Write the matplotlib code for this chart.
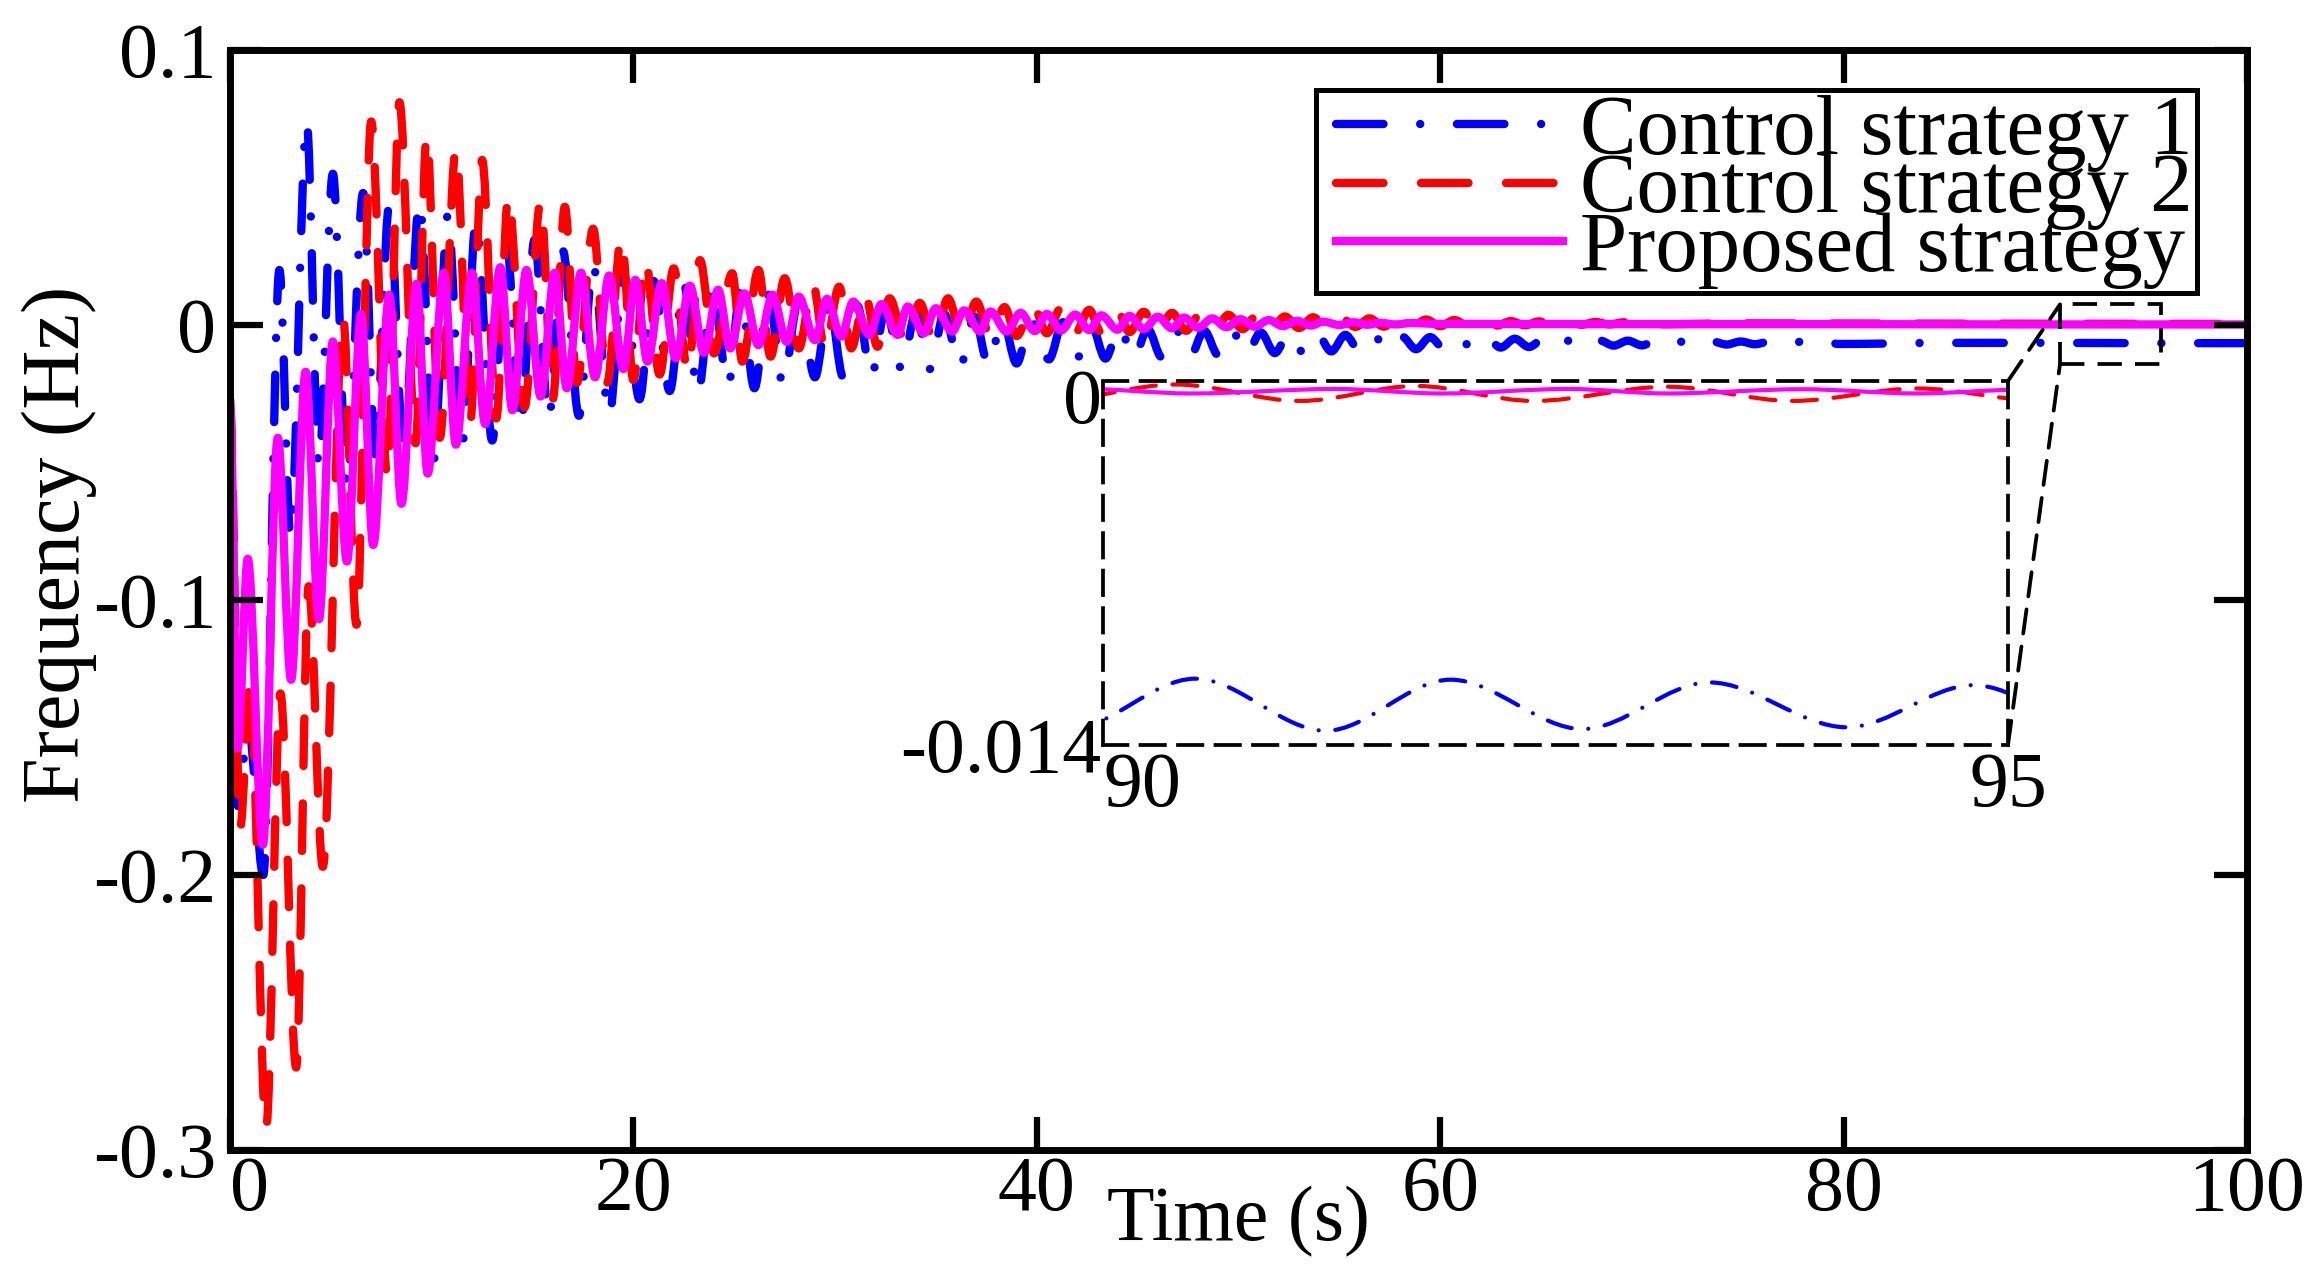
import matplotlib
matplotlib.use('Agg')
import matplotlib.pyplot as plt
from matplotlib.lines import Line2D
from matplotlib.path import Path
from matplotlib.patches import Rectangle, ConnectionPatch, PathPatch
from matplotlib.legend_handler import HandlerLine2D

# turning points of each trace (time in s, frequency deviation in Hz)
cs1_t = [0.0, 0.4, 0.9, 1.65, 2.45, 3.0, 3.8, 4.4, 5.1, 5.8, 6.6, 7.2, 7.9, 8.6, 9.4,
         10.1, 10.8, 11.5, 12.2, 13.0, 13.7, 14.4, 15.1, 15.8, 16.5, 17.3, 18.0, 18.8, 19.5,
         20.3, 21.0, 21.8, 22.5, 23.2, 23.9, 24.7, 25.3, 26.0, 26.7, 27.4, 28.2, 29.0, 29.7,
         30.4, 31.1, 31.8, 32.5, 33.3, 34.0, 34.7, 35.4, 36.2, 36.9, 37.6, 38.3, 39.0, 39.7,
         40.6, 41.3, 42.0, 42.7, 43.4, 44.1, 44.8, 45.5, 46.2, 46.9, 47.6, 48.3, 49.0, 49.7,
         50.4, 51.1, 51.8, 52.5, 53.2, 53.9, 54.6, 55.3, 56.0, 56.7, 57.4, 58.1, 58.8, 59.5,
         60.2, 60.9, 61.6, 62.3, 63.0, 63.7, 64.4, 65.1, 65.8, 66.5, 67.2, 67.9, 68.6, 69.3,
         70.0, 70.7, 71.4, 72.1, 72.8, 73.5, 74.2, 74.9, 75.6, 76.3, 77.0, 77.7, 78.4, 79.1,
         79.8, 85.0, 90.0, 95.0, 100.0]
cs1_f = [-0.030, -0.175, -0.145, -0.200, 0.020, -0.077, 0.074, -0.051, 0.055, -0.059, 0.048,
         -0.047, 0.044, -0.045, 0.045,
         -0.049, 0.040, -0.044, 0.038, -0.042, 0.031, -0.037, 0.031, -0.034, 0.027, -0.033,
         0.022, -0.033, 0.019,
         -0.027, 0.016, -0.024, 0.015, -0.025, 0.014, -0.022, 0.012, -0.023, 0.011, -0.021,
         0.0095, -0.019, 0.0085,
         -0.019, 0.007, -0.0185, 0.006, -0.016, 0.0045, -0.016, 0.004, -0.015, 0.003, -0.0145,
         0.002, -0.014, 0.0015,
         -0.0125, 0.001, -0.012, 0.000, -0.0122, -0.0008, -0.012, -0.0015, -0.0118, -0.0018,
         -0.0114, -0.0021, -0.0110, -0.0024,
         -0.0106, -0.0027, -0.0102, -0.0030, -0.0099, -0.0033, -0.0096, -0.0036, -0.0093,
         -0.0039, -0.0090, -0.0042, -0.0088, -0.0044,
         -0.0086, -0.0046, -0.0084, -0.0048, -0.0082, -0.0050, -0.0080, -0.0052, -0.0078,
         -0.0054, -0.0076, -0.0056, -0.0075, -0.0057,
         -0.0074, -0.0058, -0.0073, -0.0059, -0.0072, -0.0060, -0.0071, -0.0060, -0.0070,
         -0.0061, -0.0070, -0.0061, -0.0069, -0.0062,
         -0.0069, -0.0065, -0.0065, -0.0066, -0.0066]

cs2_t = [0.0, 0.5, 1.0, 1.79, 2.5, 3.28, 3.9, 4.6, 5.6, 6.27, 7.0, 7.8, 8.4, 9.2, 9.75,
         10.4, 11.2, 11.9, 12.5, 13.2, 13.8, 14.6, 15.4, 16.0, 16.6, 17.2, 18.0, 18.7, 19.4,
         20.0, 20.6, 21.3, 22.0, 22.7, 23.3, 24.0, 24.9, 25.4, 26.2, 26.8, 27.5, 28.2, 28.9,
         29.5, 30.2, 30.8, 31.5, 32.1, 32.7, 33.5, 34.2, 34.9, 35.6, 36.3, 37.0, 37.7, 38.4,
         39.0, 39.8, 40.5, 41.2, 41.9, 42.6, 43.2, 44.0, 44.6, 45.3, 46.0, 46.7, 47.4, 48.1,
         48.8, 49.5, 50.2, 50.9, 51.6, 52.3, 53.0, 53.7, 54.4, 55.1, 55.8, 56.5, 57.2, 57.9,
         58.6, 59.3, 60.0, 60.7, 61.4, 62.1, 62.8, 63.5, 64.2, 64.9, 65.6, 66.3, 67.0, 67.7,
         68.4, 69.1, 69.8, 75.0, 85.0, 100.0]
cs2_f = [-0.030, -0.183, -0.130, -0.292, -0.134, -0.270, -0.095, -0.197, 0.003, -0.109,
         0.074, -0.055, 0.081, -0.043, 0.069,
         -0.041, 0.064, -0.036, 0.060, -0.034, 0.047, -0.030, 0.045, -0.027, 0.043, -0.021,
         0.035, -0.021, 0.032,
         -0.020, 0.0236, -0.018, 0.0206, -0.017, 0.0236, -0.0103, 0.0188, -0.0133, 0.020,
         -0.0115, 0.017, -0.0085, 0.015,
         -0.0091, 0.0139, -0.0085, 0.011, -0.0079, 0.0097, -0.0067, 0.0080, -0.0060, 0.0097,
         -0.0048, 0.0085, -0.0042, 0.0065,
         -0.0040, 0.0073, -0.0030, 0.0061, -0.0030, 0.0055, -0.0028, 0.0050, -0.0026, 0.0048,
         -0.0024, 0.0044, -0.0021, 0.0040,
         -0.0018, 0.0037, -0.0015, 0.0034, -0.0013, 0.0031, -0.0011, 0.0028, -0.0009, 0.0026,
         -0.0007, 0.0024, -0.0006, 0.0022,
         -0.0005, 0.0020, -0.0004, 0.0018, -0.0003, 0.0016, -0.0002, 0.0014, -0.0001, 0.0013,
         0.0000, 0.0012, 0.0001, 0.0011,
         0.0002, 0.0010, 0.0002, 0.0006, 0.0005, 0.0004]

ps_t = [0.0, 0.38, 0.88, 1.63, 2.37, 3.03, 3.75, 4.41, 5.1, 5.8, 6.5, 7.1, 7.9, 8.5, 9.25,
        9.8, 10.6, 11.2, 12.0, 12.65, 13.4, 14.0, 14.7, 15.4, 16.1, 16.7, 17.4, 18.1, 18.8,
        19.5, 20.1, 20.7, 21.4, 22.1, 22.8, 23.5, 24.2, 24.8, 25.5, 26.2, 26.9, 27.6, 28.2,
        29.0, 29.6, 30.3, 30.9, 31.7, 32.3, 33.1, 33.6, 34.4, 35.0, 35.8, 36.4, 37.2, 37.7,
        38.5, 39.2, 39.9, 40.5, 41.2, 41.9, 42.6, 43.2, 44.0, 44.6, 45.3, 46.0, 46.7, 47.3,
        48.0, 48.7, 49.4, 50.1, 50.8, 51.5, 52.2, 52.9, 53.6, 54.2, 55.0, 55.7, 56.4, 57.0,
        57.8, 58.5, 60.0, 70.0, 80.0, 90.0, 100.0]
ps_f = [-0.027, -0.154, -0.085, -0.189, -0.041, -0.129, -0.017, -0.107, -0.006, -0.086,
        0.004, -0.080, 0.011, -0.065, 0.015,
        -0.054, 0.019, -0.0435, 0.019, -0.036, 0.021, -0.031, 0.020, -0.026, 0.019, -0.023,
        0.019, -0.019, 0.018,
        -0.016, 0.0164, -0.0133, 0.0152, -0.0121, 0.0143, -0.0101, 0.0128, -0.0085, 0.0115,
        -0.0073, 0.011, -0.0061, 0.0103,
        -0.0055, 0.0095, -0.0042, 0.0085, -0.0036, 0.0076, -0.0036, 0.0067, -0.0030, 0.0061,
        -0.0024, 0.0053, -0.0024, 0.0049,
        -0.0024, 0.0044, -0.0022, 0.0040, -0.0020, 0.0038, -0.0018, 0.0035, -0.0017, 0.0033,
        -0.0015, 0.0030, -0.0012, 0.0027,
        -0.0010, 0.0024, -0.0008, 0.0021, -0.0006, 0.0018, -0.0004, 0.0015, -0.0002, 0.0012,
        0.0000, 0.0010, 0.0001, 0.0008,
        0.0002, 0.0007, 0.0004, 0.0003, 0.0003, 0.0002, 0.0002]

# the 90-95 s detail (turning points)
cs1_zoom_t = [89.8, 90.51, 91.23, 91.92, 92.65, 93.35, 94.11, 94.81, 95.5]
cs1_zoom_f = [-0.0134, -0.01134, -0.01343, -0.01138, -0.01336, -0.01149, -0.01329, -0.01160,
              -0.0133]
cs2_zoom_t = [89.7, 90.40, 91.09, 91.73, 92.38, 93.12, 93.81, 94.5, 95.2]
cs2_zoom_f = [-0.0002, 0.00046, -0.0002, 0.0004, -0.0002, 0.00037, -0.0002, 0.0003, -0.0002]
ps_zoom_t = [89.85, 90.49, 91.28, 91.87, 92.57, 93.12, 93.86, 94.5, 95.1]
ps_zoom_f = [0.0003, 0.0001, 0.00028, 0.0001, 0.00028, 0.0001, 0.00027, 0.0001, 0.00026]

labels = ['Control strategy 1', 'Control strategy 2', 'Proposed strategy']
colors = ['#0000ff', '#ff0000', '#ff00ff']
x_ticks = [0, 20, 40, 60, 80, 100]
y_ticks = [-0.3, -0.2, -0.1, 0, 0.1]
y_tick_labels = ['-0.3', '-0.2', '-0.1', '0', '0.1']

DASHDOT = (0, (5.7, 4.4, 0.01, 4.4))
DASHED = (0, (5.7, 4.5))
BOXDASH = (0, (6.5, 3.5))


def smooth_path(t, f):
    """Path through the turning points, flat at each one (cubic segments)."""
    verts = [(t[0], f[0])]
    codes = [Path.MOVETO]
    for t0, f0, t1, f1 in zip(t[:-1], f[:-1], t[1:], f[1:]):
        dt = (t1 - t0) / 3.0
        verts += [(t0 + dt, f0), (t1 - dt, f1), (t1, f1)]
        codes += [Path.CURVE4] * 3
    return Path(verts, codes)


def draw_trace(ax, t, f, color, ls, lw):
    patch = PathPatch(smooth_path(t, f), fill=False, edgecolor=color, lw=lw, ls=ls,
                      capstyle='round', joinstyle='round')
    ax.add_patch(patch)


def main():
    plt.rcParams['font.family'] = ['Liberation Serif', 'DejaVu Serif']
    plt.rcParams['axes.unicode_minus'] = False

    fig = plt.figure(figsize=(23.09, 12.82), dpi=100)
    ax = fig.add_axes([230 / 2309, 132 / 1282, 2017 / 2309, 1100 / 1282])

    styles = [DASHDOT, DASHED, '-']
    series = [(cs1_t, cs1_f), (cs2_t, cs2_f), (ps_t, ps_f)]
    for (t, f), c, ls in zip(series, colors, styles):
        draw_trace(ax, t, f, c, ls, 6)

    ax.set_xlim(0, 100)
    ax.set_ylim(-0.3, 0.1)
    ax.set_xticks(x_ticks)
    ax.set_yticks(y_ticks)
    ax.set_yticklabels(y_tick_labels)
    ax.tick_params(direction='in', length=24, width=4.5, top=True, right=True, labelsize=56)
    ax.tick_params(axis='x', pad=4)
    ax.tick_params(axis='y', pad=10)
    ax.get_xticklabels()[0].set_ha('left')
    for sp in ax.spines.values():
        sp.set_linewidth(5)

    ax.set_xlabel('Time (s)', fontsize=56)
    ax.xaxis.set_label_coords(0.5, -0.082)
    ax.xaxis.label.set_va('baseline')
    ax.set_ylabel('Frequency (Hz)', fontsize=59)
    ax.yaxis.set_label_coords(-0.0845, 0.551)
    ax.yaxis.label.set_va('center')

    handles = [Line2D([], [], color=c, lw=6, ls=ls, dash_capstyle='round')
               for c, ls in zip(colors, styles)]
    leg = ax.legend(handles, labels, loc='upper right', bbox_to_anchor=(0.9752, 0.9636),
                    borderaxespad=0, fontsize=61, handlelength=2.87, handletextpad=0.2,
                    borderpad=0.05, labelspacing=-0.22, fancybox=False, framealpha=1,
                    edgecolor='k', handler_map={Line2D: HandlerLine2D(xpad=0.19)})
    leg.get_frame().set_linewidth(3.6)

    # dashed box marking the zoomed window
    ax.add_patch(Rectangle((90.73, -0.0142), 5.01, 0.0217, fill=False, ec='k', lw=2.7,
                           ls=BOXDASH, zorder=5))

    axins = fig.add_axes([1103 / 2309, 537 / 1282, 905 / 2309, 364 / 1282])
    zoom_series = [(cs1_zoom_t, cs1_zoom_f), (cs2_zoom_t, cs2_zoom_f), (ps_zoom_t, ps_zoom_f)]
    zoom_styles = [(0, (6, 4, 0.01, 4)), (0, (6, 4)), '-']
    for (t, f), c, ls in zip(zoom_series, colors, zoom_styles):
        draw_trace(axins, t, f, c, ls, 3)
    axins.set_xlim(90, 95)
    axins.set_ylim(-0.014, 0.0006)
    axins.set_xticks([90, 95])
    axins.set_yticks([-0.014, 0])
    axins.set_yticklabels(['-0.014', '0'])
    axins.tick_params(length=0, labelsize=56)
    axins.tick_params(axis='x', pad=5)
    axins.tick_params(axis='y', pad=1)
    axins.get_xticklabels()[0].set_ha('left')
    for sp in axins.spines.values():
        sp.set_linestyle(BOXDASH)
        sp.set_linewidth(2.7)

    for yin, ymain in [(1, 0.0075), (0, -0.0142)]:
        con = ConnectionPatch(xyA=(1, yin), coordsA=axins.transAxes,
                              xyB=(90.73, ymain), coordsB=ax.transData,
                              color='k', lw=2.7, ls=BOXDASH)
        fig.add_artist(con)

    fig.savefig('out.png', dpi=100)


if __name__ == '__main__':
    main()
